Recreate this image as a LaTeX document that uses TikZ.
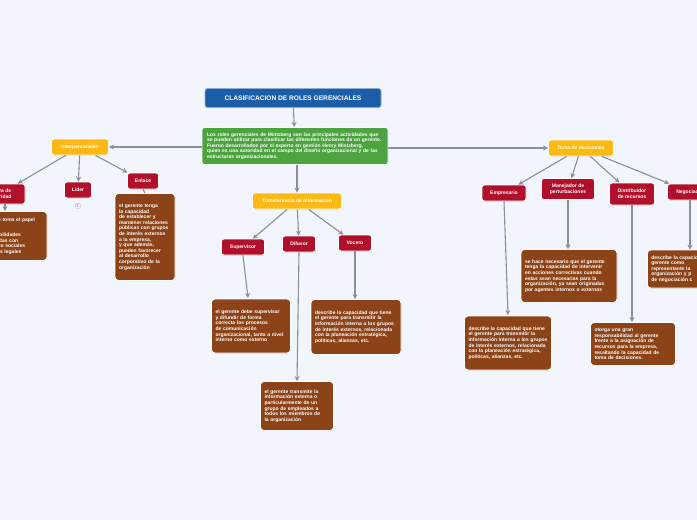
\documentclass[tikz,border=0pt]{standalone}
\usepackage{fontspec}
\setmainfont{Liberation Sans}
\usetikzlibrary{arrows.meta,shadows}
\hyphenpenalty=10000
\exhyphenpenalty=10000
\definecolor{bg}{HTML}{F2F5FC}
\definecolor{tblue}{HTML}{1C5DA8}
\definecolor{mgreen}{HTML}{4CA33F}
\definecolor{myell}{HTML}{FDB913}
\definecolor{mred}{HTML}{B0102A}
\definecolor{mbrown}{HTML}{8C4317}
\definecolor{lgray}{HTML}{8A8F99}
\tikzset{
 base/.style={draw=white,line width=0.8pt,rounded corners=2.5pt,text=white,font=\bfseries\fontsize{5}{5.6}\selectfont,drop shadow={shadow xshift=0.4pt,shadow yshift=-0.6pt,opacity=0.25}},
 ttl/.style={base,fill=tblue,draw=tblue!50!white,minimum width=176pt,minimum height=19pt,font=\bfseries\fontsize{6.6}{7}\selectfont},
 grn/.style={base,fill=mgreen,text width=176pt,minimum height=37pt,inner sep=5pt,align=left},
 yel/.style={base,fill=myell,minimum height=16pt,inner sep=3pt},
 red/.style={base,fill=mred,minimum height=16pt,inner sep=3pt,align=center},
 brn/.style={base,fill=mbrown,inner sep=4pt,align=left,rounded corners=3.5pt},
 arr/.style={draw=lgray,line width=1.1pt,-{Stealth[length=5pt,width=5pt]}},
}
\begin{document}
\begin{tikzpicture}[x=1pt,y=-1pt]
\fill[bg] (0,0) rectangle (697,520);
\clip (0,0) rectangle (697,520);
\node[ttl] (title) at (293,98) {CLASIFICACION DE ROLES GERENCIALES};
\node[grn] (main) at (295,146) {Los roles gerenciales de Mintzberg son las principales actividades que se pueden utilizar para clasificar las diferentes funciones de un gerente. Fueron desarrollados por el experto en gestión Henry Mintzberg, quien es una autoridad en el campo del diseño organizacional y de las estructuras organizacionales.};
\node[yel,minimum width=57pt] (inter) at (80,147) {Interpersonales};
\node[yel,minimum width=65pt] (toma) at (581,148) {Toma de decisiones};
\node[yel,minimum width=89pt] (trans) at (297,201) {Transferencia de informacion};
% interpersonales
\node[red,minimum width=50pt,minimum height=20pt] (fig) at (0,194) {Figura de\\autoridad};
\node[red,minimum width=27pt] (lider) at (78,190) {Lider};
\node[draw=lgray!60,circle,inner sep=0.6pt,text=lgray,font=\fontsize{4.5}{5}\selectfont] (one) at (78,206) {1};
\node[red,minimum width=31pt] (enl) at (143,181) {Enlace};
\node[brn,text width=66pt,minimum height=49pt] (figb) at (10,236) {el gerente toma el papel\\simbólico\\[4pt]responsabilidades\\relacionadas con\\el contexto sociales\\y entornos legales};
\node[brn,text width=52pt,minimum height=87pt] (enlb) at (145,237) {el gerente tenga la capacidad de establecer y mantener relaciones públicas con grupos de interés externos a la empresa, y que además, pueden favorecer al desarrollo corporativo de la organización};
% transferencia
\node[red,minimum width=43pt] (sup) at (243,247) {Supervisor};
\node[red,minimum width=33pt] (dif) at (299,244) {Difusor};
\node[red,minimum width=33pt] (voc) at (355,243) {Vocero};
\node[brn,text width=71pt,minimum height=54pt] (supb) at (251,326) {el gerente debe supervisar y difundir de forma correcta los procesos de comunicación organizacional, tanto a nivel interno como externo};
\node[brn,text width=82pt,minimum height=55pt] (vocb) at (356,327) {describe la capacidad que tiene el gerente para transmitir la información interna a los grupos de interés externos, relacionada con la planeación estratégica, políticas, alianzas, etc.};
\node[brn,text width=65pt,minimum height=49pt] (difb) at (297,406) {el gerente transmite la información externa o particularmente de un grupo de empleados a todos los miembros de la organización};
% toma de decisiones
\node[red,minimum width=44pt] (emp) at (504,193) {Empresario};
\node[red,minimum width=53pt,minimum height=21pt] (man) at (568,189) {Manejador de\\perturbaciones};
\node[red,minimum width=45pt,minimum height=22pt] (dis) at (632,194) {Distribuidor\\de recursos};
\node[red,minimum width=45pt] (neg) at (690,192) {Negociador};
\node[brn,text width=88pt,minimum height=53pt] (manb) at (569,276) {se hace necesario que el gerente tenga la capacidad de intervenir en acciones correctivas cuando estas sean necesarias para la organización, ya sean originadas por agentes internos o externos};
\node[brn,text width=79pt,minimum height=54pt] (empb) at (508,343) {describe la capacidad que tiene el gerente para transmitir la información interna a los grupos de interés externos, relacionada con la planeación estratégica, políticas, alianzas, etc.};
\node[brn,text width=77pt,minimum height=43pt] (disb) at (633,344) {otorga una gran responsabilidad al gerente frente a la asignación de recursos para la empresa, resaltando la capacidad de toma de decisiones.};
\node[brn,text width=80pt,minimum height=38pt,anchor=west] (negb) at (647,269) {describe la capacidad del\\gerente como\\representante la\\organización y p\\de negociación c};
% connectors
\draw[arr] (title) -- (main);
\draw[arr] (main.west |- inter) -- (inter);
\draw[arr] (main.east |- toma) -- (toma);
\draw[arr] (main.south -| trans) -- (trans);
\draw[arr] (inter) -- (fig);
\draw[arr] (inter) -- (lider);
\draw[arr] (inter) -- (enl);
\draw[arr] (fig.south -| 5,0) -- (figb.north -| 5,0);
\draw[draw=lgray,line width=1.1pt] (enl.south) -- (enlb.north);
\draw[arr] (trans) -- (sup);
\draw[arr] (trans) -- (dif);
\draw[arr] (trans) -- (voc);
\draw[arr] (sup.south) -- (248,298);
\draw[arr] (dif.south) -- (difb.north);
\draw[arr] (voc.south) -- (vocb.north -| voc);
\draw[arr] (toma) -- (emp);
\draw[arr] (toma) -- (man);
\draw[arr] (toma) -- (dis);
\draw[arr] (toma) -- (neg);
\draw[arr] (emp.south) -- (508,315);
\draw[arr] (man.south) -- (manb.north -| man);
\draw[arr] (dis.south) -- (disb.north -| dis);
\draw[arr] (neg.south) -- (negb.north -| neg);
\end{tikzpicture}
\end{document}
